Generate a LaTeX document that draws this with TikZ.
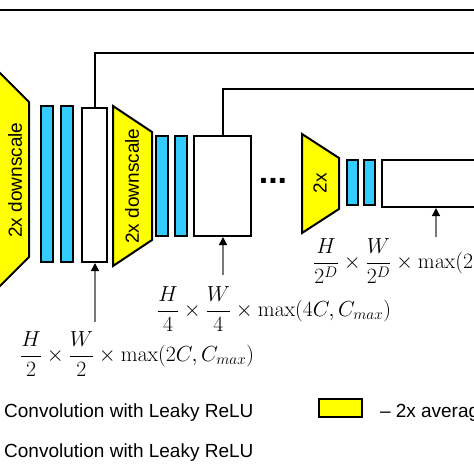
\RequirePackage{fix-cm}
\documentclass[tikz,border=0pt]{standalone}
\usepackage[no-math]{fontspec}
\setmainfont{Liberation Sans}
\usetikzlibrary{arrows.meta}
\definecolor{padyellow}{RGB}{255,255,0}
\definecolor{convblue}{RGB}{51,204,255}
\definecolor{arrgray}{RGB}{120,120,120}
\tikzset{
  conn/.style={line width=2pt, draw=black},
  poolshape/.style={line width=2pt, draw=black, fill=padyellow, line join=miter},
  convbar/.style={rectangle, line width=2pt, draw=black, fill=convblue, inner sep=0pt},
  featbox/.style={rectangle, line width=2pt, draw=black, fill=white, inner sep=0pt},
  pooltext/.style={rotate=90, font=\fontsize{19}{22}\selectfont, inner sep=0pt},
  sizelabel/.style={anchor=west, inner sep=0pt, font=\fontsize{21.8}{26}\selectfont},
  legendtext/.style={anchor=base west, inner sep=0pt, font=\fontsize{19}{22}\selectfont},
  arr/.style={draw=arrgray, line width=1.3pt, -{Triangle[width=8pt,length=8pt,fill=black,color=black]}},
}
\begin{document}
\begin{tikzpicture}[x=1pt,y=-1pt]
\useasboundingbox (0,0) rectangle (474,474);
\clip (0,0) rectangle (474,474);
% top line
\coordinate (t0) at (-10,10);
\coordinate (t1) at (490,10);
\draw[conn] (t0) -- (t1);
% first downscale block
\draw[poolshape] (-20,53) -- (29,102) -- (29,257) -- (-20,306) -- cycle;
\node[pooltext] (p1) at (15,180) {2x downscale};
\node[convbar, minimum width=12, minimum height=156] (c1a) at (47,184) {};
\node[convbar, minimum width=12, minimum height=156] (c1b) at (67,184) {};
\node[featbox, minimum width=25, minimum height=154] (b1) at (94.5,185) {};
% second downscale block
\draw[poolshape] (113,106) -- (152,132) -- (152,240) -- (113,266) -- cycle;
\node[pooltext] (p2) at (132,186) {2x downscale};
\node[convbar, minimum width=12, minimum height=100] (c2a) at (162,186) {};
\node[convbar, minimum width=12, minimum height=100] (c2b) at (181,186) {};
\node[featbox, minimum width=57, minimum height=100] (b2) at (222.5,186) {};
% dots
\node[inner sep=0pt, font=\fontsize{34}{34}\bfseries\selectfont] (dots) at (273,181) {...};
% third block
\draw[poolshape] (302,134) -- (339,158) -- (339,209) -- (302,233) -- cycle;
\node[pooltext] (p3) at (320,183) {2x};
\node[convbar, minimum width=11, minimum height=45] (c3a) at (352.5,182.5) {};
\node[convbar, minimum width=11, minimum height=45] (c3b) at (369.5,182.5) {};
\node[featbox, minimum width=137, minimum height=47] (b3) at (450.5,183.5) {};
% skip lines
\coordinate (s1) at (490,53);
\coordinate (s2) at (490,89);
\draw[conn] (b1.north) -- (b1.north |- s1) -- (s1);
\draw[conn] (b2.north) -- (b2.north |- s2) -- (s2);
% size labels
\node[sizelabel] (l1) at (20,354) {$\displaystyle \frac{H}{2}\times\frac{W}{2}\times\max(2C, C_{max})$};
\node[sizelabel] (l2) at (157,309) {$\displaystyle \frac{H}{4}\times\frac{W}{4}\times\max(4C, C_{max})$};
\node[sizelabel] (l3) at (313,261) {$\displaystyle \frac{H}{2^D}\times\frac{W}{2^D}\times\max(2$};
% arrows
\coordinate (a1) at (95,322);
\coordinate (a2) at (223,275);
\coordinate (a3) at (436,237);
\draw[arr] (a1) -- (a1 |- b1.south);
\draw[arr] (a2) -- (a2 |- b2.south);
\draw[arr] (a3) -- (a3 |- b3.south);
% legend
\node[legendtext] (g1) at (4,417) {Convolution with Leaky ReLU};
\node[legendtext] (g2) at (4,457) {Convolution with Leaky ReLU};
\node[rectangle, line width=2pt, draw=black, fill=padyellow, minimum width=43, minimum height=18, inner sep=0pt] (g3) at (340.5,408) {};
\node[legendtext] (g4) at (380,417) {–\hspace{5pt}2x average};
\end{tikzpicture}
\end{document}
